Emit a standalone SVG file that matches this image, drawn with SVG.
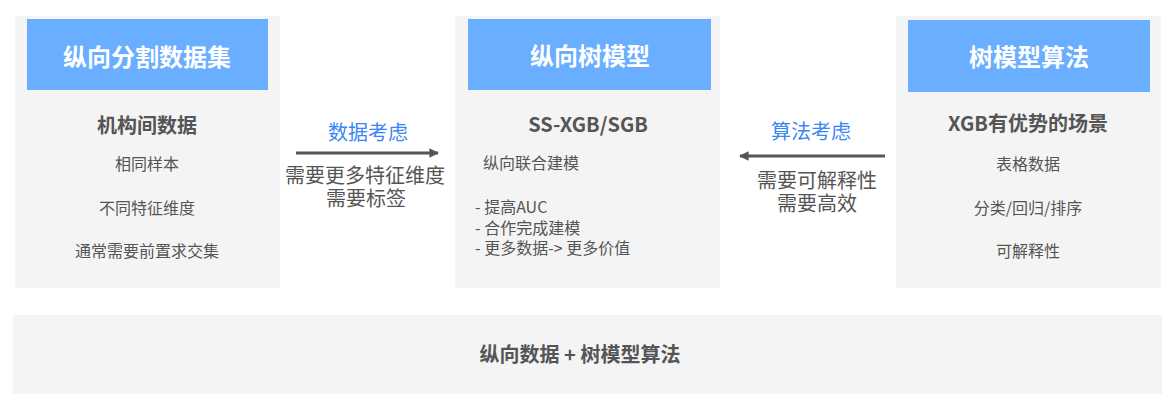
<svg xmlns="http://www.w3.org/2000/svg" width="1174" height="411" viewBox="0 0 1174 411">
<defs>
<style>
text{font-family:"Noto Sans CJK SC","Noto Sans",sans-serif;dominant-baseline:central}
.panel{fill:#f4f4f4}
.head{fill:#6aaeff}
.ht{fill:#fff;font-size:24px;font-weight:bold;text-anchor:middle}
.sub{fill:#555;font-size:20px;font-weight:bold;text-anchor:middle}
.item{fill:#555;font-size:16px;text-anchor:middle}
.li{fill:#555;font-size:16px}
.lbl{fill:#3a86f7;font-size:20px;text-anchor:middle}
.note{fill:#555;font-size:20px;text-anchor:middle}
.arr{stroke:#555;stroke-width:3;fill:none}
</style>
<marker id="ah" viewBox="0 0 10 10" refX="9" refY="5" markerWidth="3.2" markerHeight="3.2" orient="auto-start-reverse" markerUnits="strokeWidth">
<path d="M0,0 L10,5 L0,10 z" fill="#555"/>
</marker>
</defs>
<rect width="1174" height="411" fill="#fff"/>
<g id="node-dataset">
<rect class="panel" x="15" y="16" width="265" height="272"/>
<rect class="head" x="27" y="19" width="241" height="71"/>
<text class="ht" x="147" y="55">纵向分割数据集</text>
<text class="sub" x="147" y="124">机构间数据</text>
<text class="item" x="147" y="163">相同样本</text>
<text class="item" x="147" y="207">不同特征维度</text>
<text class="item" x="147" y="250">通常需要前置求交集</text>
</g>
<g id="node-model">
<rect class="panel" x="455" y="16" width="265" height="272"/>
<rect class="head" x="468" y="19" width="243" height="71"/>
<text class="ht" x="590" y="54">纵向树模型</text>
<text class="sub" x="588" y="123">SS-XGB/SGB</text>
<text class="li" x="483" y="162">纵向联合建模</text>
<text class="li" x="475" y="206">- 提高AUC</text>
<text class="li" x="475" y="227">- 合作完成建模</text>
<text class="li" x="475" y="247">- 更多数据-&gt; 更多价值</text>
</g>
<g id="node-algo">
<rect class="panel" x="896" y="16" width="265" height="272"/>
<rect class="head" x="908" y="20" width="242" height="72"/>
<text class="ht" x="1029" y="55">树模型算法</text>
<text class="sub" x="1028" y="122">XGB有优势的场景</text>
<text class="item" x="1028" y="163">表格数据</text>
<text class="item" x="1028" y="207">分类/回归/排序</text>
<text class="item" x="1028" y="250">可解释性</text>
</g>
<g id="node-summary">
<rect class="panel" x="13" y="315" width="1149" height="79"/>
<text class="sub" x="580" y="353" font-size="18">纵向数据 + 树模型算法</text>
</g>
<g id="connectors">
<line class="arr" x1="296" y1="153" x2="438" y2="153" marker-end="url(#ah)"/>
<text class="lbl" x="368" y="131">数据考虑</text>
<text class="note" x="365" y="174">需要更多特征维度</text>
<text class="note" x="366" y="197">需要标签</text>
<line class="arr" x1="885" y1="156" x2="740" y2="156" marker-end="url(#ah)"/>
<text class="lbl" x="811" y="130">算法考虑</text>
<text class="note" x="817" y="179">需要可解释性</text>
<text class="note" x="817" y="202">需要高效</text>
</g>
</svg>
